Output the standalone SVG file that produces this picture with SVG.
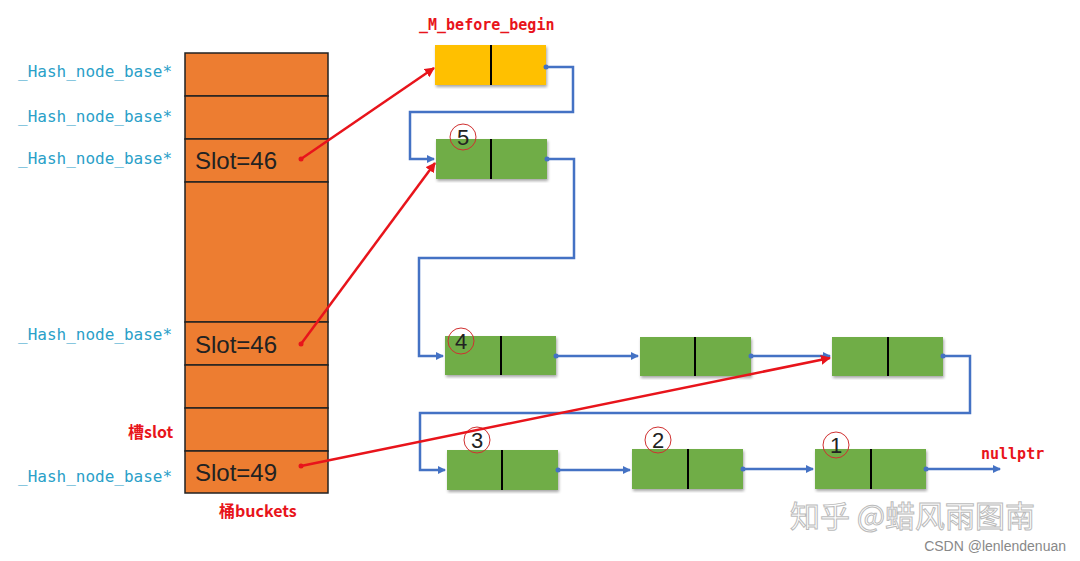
<svg xmlns="http://www.w3.org/2000/svg" width="1080" height="561" viewBox="0 0 1080 561">
<style>
.lbl{font-family:"DejaVu Sans Mono","Liberation Mono",monospace;font-size:16px;fill:#2aa0c8}
.slot{font-family:"Liberation Sans",sans-serif;font-size:24px;fill:#222}
.cell{fill:#ed7d31;stroke:#222;stroke-width:1.5}
.nd{fill:#70ad47;filter:url(#sh)}
.dv{stroke:#000;stroke-width:2}
.bl{fill:none;stroke:#4472c4;stroke-width:2.5}
.rd{stroke:#e8141b;stroke-width:2.5}
.num{font-family:"Liberation Sans",sans-serif;font-size:22px;fill:#222;text-anchor:middle}
.cir{fill:none;stroke:#d03030;stroke-width:1}
.red{font-family:"DejaVu Sans Mono",monospace;font-weight:bold;fill:#e8141b}
</style>
<defs>
<filter id="sh"><feDropShadow dx="1" dy="2" stdDeviation="1.5" flood-opacity="0.35"/></filter>
<marker id="ab" markerWidth="8" markerHeight="8" refX="7" refY="4" orient="auto" markerUnits="userSpaceOnUse"><path d="M0,0L8,4L0,8z" fill="#4472c4"/></marker>
<marker id="db" markerWidth="6" markerHeight="6" refX="3" refY="3" markerUnits="userSpaceOnUse"><circle cx="3" cy="3" r="2.5" fill="#4472c4"/></marker>
<marker id="ar" markerWidth="10" markerHeight="10" refX="9" refY="5" orient="auto" markerUnits="userSpaceOnUse"><path d="M0,0L10,5L0,10z" fill="#e8141b"/></marker>
<marker id="dr" markerWidth="6" markerHeight="6" refX="3" refY="3" markerUnits="userSpaceOnUse"><circle cx="3" cy="3" r="2.5" fill="#e8141b"/></marker>
</defs>
<rect width="1080" height="561" fill="#fff"/>
<g id="buckets">
<rect class="cell" x="185" y="53" width="143" height="43"/>
<rect class="cell" x="185" y="96" width="143" height="43"/>
<rect class="cell" x="185" y="139" width="143" height="43"/>
<rect class="cell" x="185" y="182" width="143" height="140"/>
<rect class="cell" x="185" y="322" width="143" height="43"/>
<rect class="cell" x="185" y="365" width="143" height="43"/>
<rect class="cell" x="185" y="408" width="143" height="43"/>
<rect class="cell" x="185" y="451" width="143" height="42"/>
<text class="slot" x="195" y="169">Slot=46</text>
<text class="slot" x="195" y="353">Slot=46</text>
<text class="slot" x="195" y="481">Slot=49</text>
</g>
<g id="labels">
<text class="lbl" x="18" y="77">_Hash_node_base*</text>
<text class="lbl" x="18" y="122">_Hash_node_base*</text>
<text class="lbl" x="18" y="164">_Hash_node_base*</text>
<text class="lbl" x="18" y="340">_Hash_node_base*</text>
<text class="lbl" x="18" y="482">_Hash_node_base*</text>
<text x="128" y="438" font-family="'Noto Sans CJK SC',serif" font-weight="bold" font-size="16" fill="#e8141b">槽slot</text>
<text x="219" y="517" font-family="'Noto Sans CJK SC',serif" font-weight="bold" font-size="16" fill="#e8141b">桶buckets</text>
<text class="red" x="419" y="30" font-size="15">_M_before_begin</text>
<text class="red" x="981" y="459" font-size="15">nullptr</text>
</g>
<g id="n0"><rect x="435" y="45" width="111" height="40" fill="#ffc000" filter="url(#sh)"/><line class="dv" x1="491" y1="45" x2="491" y2="85"/></g>
<g id="n5"><rect class="nd" x="436" y="139" width="111" height="40"/><line class="dv" x1="491" y1="139" x2="491" y2="179"/><circle class="cir" cx="463" cy="137" r="13"/><text class="num" x="463" y="145">5</text></g>
<g id="n4"><rect class="nd" x="445" y="336" width="111" height="39"/><line class="dv" x1="501" y1="336" x2="501" y2="375"/><circle class="cir" cx="461" cy="341" r="13"/><text class="num" x="461" y="349">4</text></g>
<g id="nB"><rect class="nd" x="640" y="337" width="111" height="39"/><line class="dv" x1="695" y1="337" x2="695" y2="376"/></g>
<g id="nC"><rect class="nd" x="832" y="337" width="111" height="39"/><line class="dv" x1="888" y1="337" x2="888" y2="376"/></g>
<g id="n3"><rect class="nd" x="447" y="450" width="111" height="40"/><line class="dv" x1="502" y1="450" x2="502" y2="490"/><circle class="cir" cx="477" cy="440" r="13"/><text class="num" x="477" y="448">3</text></g>
<g id="n2"><rect class="nd" x="632" y="449" width="111" height="40"/><line class="dv" x1="688" y1="449" x2="688" y2="489"/><circle class="cir" cx="658" cy="440" r="13"/><text class="num" x="658" y="448">2</text></g>
<g id="n1"><rect class="nd" x="815" y="449" width="111" height="40"/><line class="dv" x1="871" y1="449" x2="871" y2="489"/><circle class="cir" cx="836" cy="445" r="13"/><text class="num" x="836" y="453">1</text></g>
<g id="connectors">
<polyline class="bl" points="546,67 573,67 573,112 410,112 410,159 434,159" marker-start="url(#db)" marker-end="url(#ab)"/>
<polyline class="bl" points="547,159 574,159 574,258 419,258 419,356 443,356" marker-start="url(#db)" marker-end="url(#ab)"/>
<polyline class="bl" points="556,356 638,356" marker-start="url(#db)" marker-end="url(#ab)"/>
<polyline class="bl" points="751,356 830,356" marker-start="url(#db)" marker-end="url(#ab)"/>
<polyline class="bl" points="943,356 970,356 970,413 420,413 420,470 445,470" marker-start="url(#db)" marker-end="url(#ab)"/>
<polyline class="bl" points="558,470 630,470" marker-start="url(#db)" marker-end="url(#ab)"/>
<polyline class="bl" points="743,469 813,469" marker-start="url(#db)" marker-end="url(#ab)"/>
<polyline class="bl" points="926,469 1000,469" marker-start="url(#db)" marker-end="url(#ab)"/>
<line class="rd" x1="301" y1="159" x2="434" y2="68" marker-start="url(#dr)" marker-end="url(#ar)"/>
<line class="rd" x1="301" y1="344" x2="435" y2="163" marker-start="url(#dr)" marker-end="url(#ar)"/>
<line class="rd" x1="301" y1="466" x2="830" y2="358" marker-start="url(#dr)" marker-end="url(#ar)"/>
</g>
<text x="790" y="527" font-family="'Noto Sans CJK SC',sans-serif" font-size="30" fill="#fff" stroke="#bbb" stroke-width="1">知乎 @蜡风雨图南</text>
<text x="1066" y="551" text-anchor="end" font-family="'Liberation Sans',sans-serif" font-size="14" fill="#888">CSDN @lenlendenuan</text>
</svg>
